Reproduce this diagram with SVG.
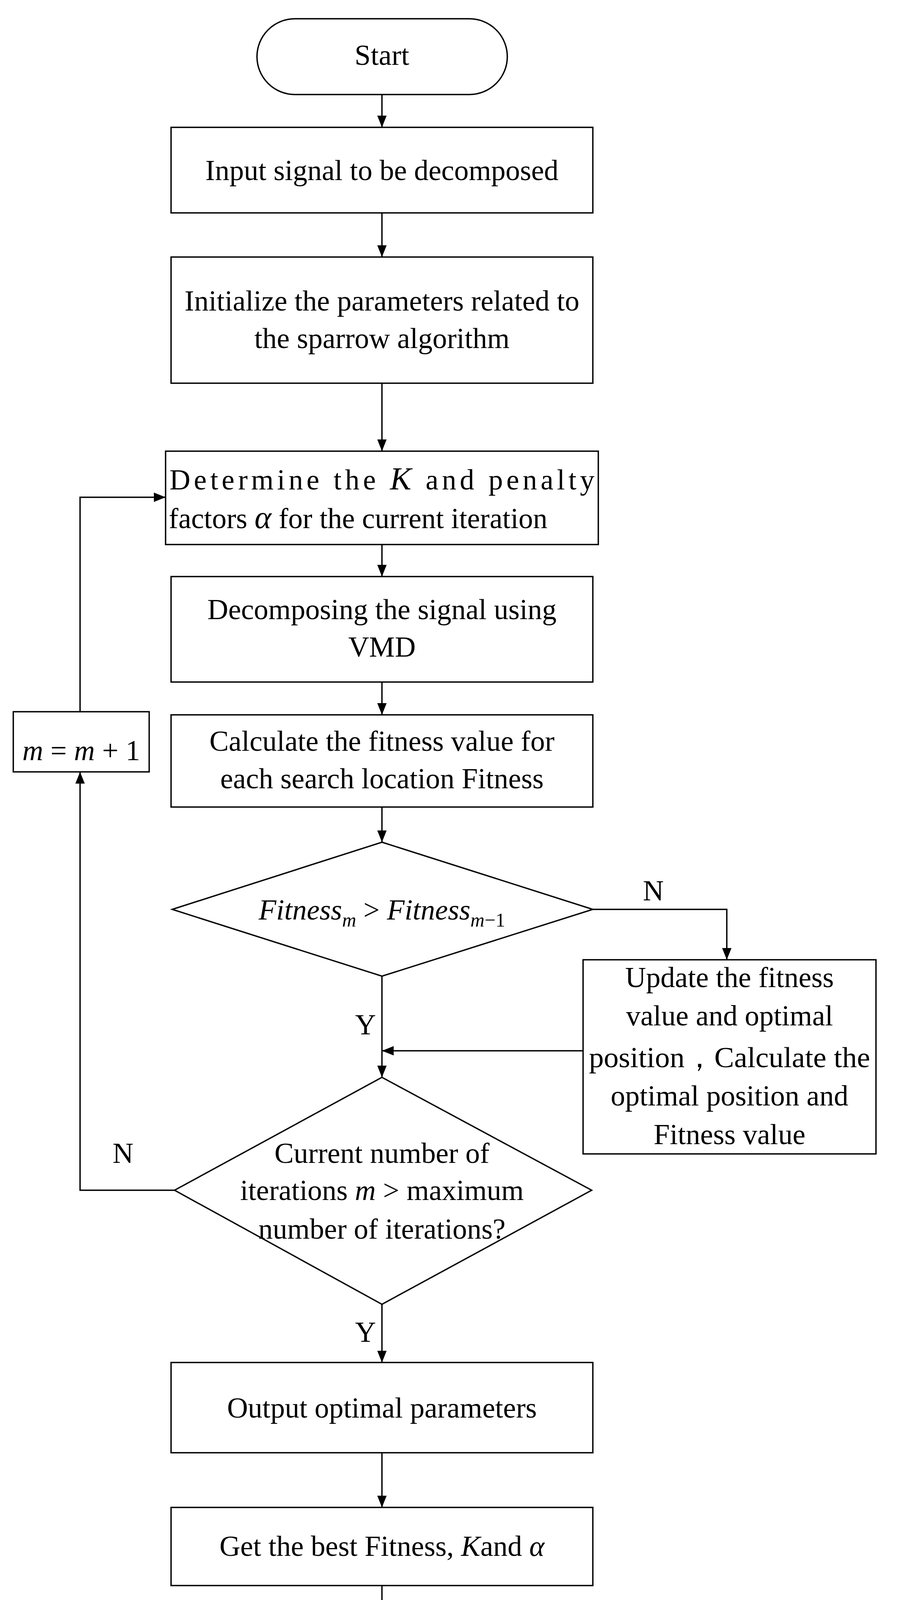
<svg xmlns="http://www.w3.org/2000/svg" width="2325" height="4479" viewBox="0 0 2325 4479">
<style>
.s{fill:#fff;stroke:#000;stroke-width:3.5}
.t{font-family:"Liberation Serif","Times New Roman",serif;font-size:74px;text-anchor:middle;fill:#000}
.l{text-anchor:start}
.i{font-style:italic}
.c{fill:none;stroke:#000;stroke-width:3.5}
</style>
<defs>
<marker id="a" markerUnits="userSpaceOnUse" markerWidth="30" markerHeight="30" viewBox="0 0 30 30" refX="30" refY="15" orient="auto">
<path d="M0,3 L30,15 L0,27 Z" fill="#000"/>
</marker>
</defs>
<g id="connectors">
<line class="c" x1="978" y1="242" x2="978" y2="326" marker-end="url(#a)"/>
<line class="c" x1="978" y1="545" x2="978" y2="658" marker-end="url(#a)"/>
<line class="c" x1="978" y1="981" x2="978" y2="1155" marker-end="url(#a)"/>
<line class="c" x1="978" y1="1394" x2="978" y2="1476" marker-end="url(#a)"/>
<line class="c" x1="978" y1="1746" x2="978" y2="1830" marker-end="url(#a)"/>
<line class="c" x1="978" y1="2066" x2="978" y2="2156" marker-end="url(#a)"/>
<polyline class="c" points="1518,2328 1861,2328 1861,2457" marker-end="url(#a)"/>
<line class="c" x1="978" y1="2499" x2="978" y2="2758" marker-end="url(#a)"/>
<line class="c" x1="1493" y1="2690" x2="978" y2="2690" marker-end="url(#a)"/>
<polyline class="c" points="447,3047 205,3047 205,1976" marker-end="url(#a)"/>
<polyline class="c" points="205,1822 205,1273 424,1273" marker-end="url(#a)"/>
<line class="c" x1="978" y1="3339" x2="978" y2="3488" marker-end="url(#a)"/>
<line class="c" x1="978" y1="3719" x2="978" y2="3859" marker-end="url(#a)"/>
<line class="c" x1="978" y1="4059" x2="978" y2="4166" marker-end="url(#a)"/>
<text class="t" x="1673" y="2305" font-size="56">N</text>
<text class="t" x="936" y="2648" font-size="56">Y</text>
<text class="t" x="315" y="2977" font-size="56">N</text>
<text class="t" x="936" y="3435" font-size="56">Y</text>
</g>
<g id="start"><rect class="s" x="658" y="48" width="641" height="194" rx="97"/><text class="t" x="978" y="166">Start</text></g>
<g id="input"><rect class="s" x="438" y="326" width="1080" height="219"/><text class="t" x="978" y="461">Input signal to be decomposed</text></g>
<g id="init"><rect class="s" x="438" y="658" width="1080" height="323"/><text class="t" x="978" y="795">Initialize the parameters related to</text><text class="t" x="978" y="891">the sparrow algorithm</text></g>
<g id="determine"><rect class="s" x="424" y="1155" width="1108" height="239"/>
<text class="t l" x="434" y="1253" textLength="1088" lengthAdjust="spacing">Determine the <tspan class="i" font-size="82">K</tspan> and penalty</text>
<text class="t l" x="432" y="1352">factors <tspan class="i" font-size="82">α</tspan> for the current iteration</text></g>
<g id="vmd"><rect class="s" x="438" y="1476" width="1080" height="270"/><text class="t" x="978" y="1585">Decomposing the signal using</text><text class="t" x="978" y="1681">VMD</text></g>
<g id="fitcalc"><rect class="s" x="438" y="1830" width="1080" height="236"/><text class="t" x="978" y="1922">Calculate the fitness value for</text><text class="t" x="978" y="2018">each search location Fitness</text></g>
<g id="mplus"><rect class="s" x="34" y="1822" width="348" height="154"/><text class="t" x="208" y="1946" font-size="80"><tspan class="i">m</tspan> = <tspan class="i">m</tspan> + 1</text></g>
<g id="dec1"><polygon class="s" points="978,2156 1518,2328 978,2499 441,2328"/>
<text class="t" x="978" y="2354" font-size="80"><tspan class="i">Fitness</tspan><tspan class="i" font-size="50" dy="18">m</tspan><tspan dy="-18"> &gt; </tspan><tspan class="i">Fitness</tspan><tspan class="i" font-size="50" dy="18">m</tspan><tspan font-size="50">−1</tspan></text></g>
<g id="update"><rect class="s" x="1493" y="2457" width="750" height="497"/>
<text class="t" x="1868" y="2527">Update the fitness</text><text class="t" x="1868" y="2625">value and optimal</text><text class="t" x="1868" y="2732" textLength="720" lengthAdjust="spacingAndGlyphs">position，Calculate the</text><text class="t" x="1868" y="2830">optimal position and</text><text class="t" x="1868" y="2929">Fitness value</text></g>
<g id="dec2"><polygon class="s" points="978,2758 1515,3047 978,3339 447,3047"/>
<text class="t" x="978" y="2977">Current number of</text><text class="t" x="978" y="3072">iterations <tspan class="i">m</tspan> &gt; maximum</text><text class="t" x="978" y="3171">number of iterations?</text></g>
<g id="output"><rect class="s" x="438" y="3488" width="1080" height="231"/><text class="t" x="978" y="3629">Output optimal parameters</text></g>
<g id="best"><rect class="s" x="438" y="3859" width="1080" height="200"/><text class="t" x="978" y="3983">Get the best Fitness,  <tspan class="i">K</tspan>and <tspan class="i">α</tspan></text></g>
<g id="end"><rect class="s" x="658" y="4166" width="641" height="191" rx="95"/><text class="t" x="978" y="4286">End</text></g>
</svg>
